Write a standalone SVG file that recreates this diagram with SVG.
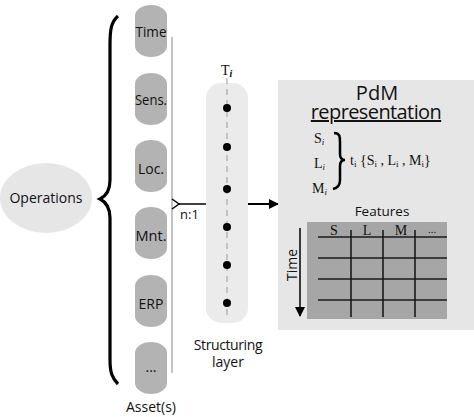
<svg xmlns="http://www.w3.org/2000/svg" width="474" height="417" viewBox="0 0 474 417">
<style>
.sans{font-family:"Open Sans","Liberation Sans",sans-serif;fill:#111}
.serif{font-family:"Liberation Serif","Times New Roman",serif;fill:#111}
.cyl{fill:#b3b3b3}
.lbl{font-size:14px;text-anchor:middle}
.dot{fill:#000}
.grid{stroke:#1a1a1a;stroke-width:1.6}
</style>
<defs>
<marker id="ah" markerWidth="10" markerHeight="10" refX="9" refY="5" orient="auto" markerUnits="userSpaceOnUse">
<path d="M0,0 L10,5 L0,10 z" fill="#000"/>
</marker>
</defs>
<rect width="474" height="417" fill="#fff"/>

<g id="operations">
<ellipse cx="46" cy="198" rx="46" ry="35" fill="#e6e6e6"/>
<text class="sans lbl" x="46" y="203">Operations</text>
</g>

<g id="brace">
<path d="M118,16 C111,22 110,30 110,45 L110,180 C110,191 106,196 100,199 C106,202 110,207 110,218 L110,360 C110,372 112,378 118,384" fill="none" stroke="#000" stroke-width="3.2"/>
</g>

<g id="assets">
<g id="asset-time"><rect class="cyl" x="135" y="5" width="32" height="52" rx="16" ry="11"/><text class="sans lbl" x="151" y="37" textLength="31" lengthAdjust="spacingAndGlyphs">Time</text></g>
<g id="asset-sens"><rect class="cyl" x="135" y="73" width="32" height="52" rx="16" ry="11"/><text class="sans lbl" x="151" y="105" textLength="32" lengthAdjust="spacingAndGlyphs">Sens.</text></g>
<g id="asset-loc"><rect class="cyl" x="135" y="140" width="32" height="52" rx="16" ry="11"/><text class="sans lbl" x="151" y="174">Loc.</text></g>
<g id="asset-mnt"><rect class="cyl" x="135" y="207" width="32" height="52" rx="16" ry="11"/><text class="sans lbl" x="151" y="241" textLength="31" lengthAdjust="spacingAndGlyphs">Mnt.</text></g>
<g id="asset-erp"><rect class="cyl" x="135" y="275" width="32" height="52" rx="16" ry="11"/><text class="sans lbl" x="151" y="309">ERP</text></g>
<g id="asset-more"><rect class="cyl" x="135" y="342" width="32" height="52" rx="16" ry="11"/><text class="sans lbl" x="151" y="372">...</text></g>
<text class="sans lbl" x="151" y="412">Asset(s)</text>
</g>

<g id="structuring-layer">
<rect x="206" y="83" width="42" height="240" rx="15" fill="#ebebeb"/>
<line x1="227" y1="78" x2="227" y2="316" stroke="#999" stroke-width="1" stroke-dasharray="6,5"/>
<circle class="dot" cx="227" cy="108" r="4"/>
<circle class="dot" cx="227" cy="147" r="4"/>
<circle class="dot" cx="227" cy="189" r="4"/>
<circle class="dot" cx="227" cy="227" r="4"/>
<circle class="dot" cx="227" cy="265" r="4"/>
<circle class="dot" cx="227" cy="303" r="4"/>
<text class="serif" x="221" y="75" font-size="14">T<tspan font-size="10" font-style="italic" font-weight="bold" dy="2">i</tspan></text>
<text class="sans lbl"><tspan x="228" y="350" letter-spacing="-0.4">Structuring</tspan><tspan x="228" y="367">layer</tspan></text>
</g>

<g id="connectors">
<line x1="172" y1="37" x2="172" y2="373" stroke="#888" stroke-width="1"/>
<path d="M172,199 L179,204 L172,209" fill="none" stroke="#000" stroke-width="1.5"/>
<line x1="179" y1="204" x2="206" y2="204" stroke="#000" stroke-width="1.5"/>
<text class="sans" x="180" y="219" font-size="13">n:1</text>
<line x1="248" y1="204" x2="278" y2="204" stroke="#000" stroke-width="2" marker-end="url(#ah)"/>
</g>

<g id="pdm-representation">
<rect x="278" y="80" width="196" height="250" fill="#e6e6e6"/>
<text class="sans" font-size="20" text-anchor="middle"><tspan x="377" y="100">PdM</tspan><tspan x="376" y="119" text-decoration="underline" letter-spacing="-0.6">representation</tspan></text>
<text class="serif" x="314" y="143" font-size="14">S<tspan font-size="9" font-style="italic" dy="2">i</tspan></text>
<text class="serif" x="314" y="168" font-size="14">L<tspan font-size="9" font-style="italic" dy="2">i</tspan></text>
<text class="serif" x="312" y="193" font-size="14">M<tspan font-size="9" font-style="italic" dy="2">i</tspan></text>
<path d="M334,133 C340,133 340,137 340,142 L340,154 C340,158 342,160 345,160 C342,160 340,162 340,166 L340,180 C340,185 338,188 333,189" fill="none" stroke="#000" stroke-width="2.5"/>
<text class="serif" x="350" y="165" font-size="14">t<tspan font-size="9" dy="2">i</tspan><tspan dy="-2"> {S</tspan><tspan font-size="9" dy="2">i</tspan><tspan dy="-2"> , L</tspan><tspan font-size="9" dy="2">i</tspan><tspan dy="-2"> , M</tspan><tspan font-size="9" dy="2">i</tspan><tspan dy="-2">}</tspan></text>
<text class="sans" x="382" y="216" font-size="13.5" text-anchor="middle">Features</text>
<rect x="307" y="222" width="140" height="97" fill="#a6a6a6"/>
<line class="grid" x1="318" y1="237" x2="447" y2="237"/>
<line class="grid" x1="318" y1="258" x2="447" y2="258"/>
<line class="grid" x1="318" y1="279" x2="447" y2="279"/>
<line class="grid" x1="318" y1="300" x2="447" y2="300"/>
<line class="grid" x1="351" y1="230" x2="351" y2="317"/>
<line class="grid" x1="383" y1="230" x2="383" y2="317"/>
<line class="grid" x1="415" y1="230" x2="415" y2="317"/>
<text class="serif" x="334" y="235" font-size="14" text-anchor="middle">S</text>
<text class="serif" x="367" y="235" font-size="14" text-anchor="middle">L</text>
<text class="serif" x="401" y="235" font-size="14" text-anchor="middle">M</text>
<text class="serif" x="432" y="233" font-size="11" text-anchor="middle">...</text>
<line x1="300" y1="228" x2="300" y2="316" stroke="#000" stroke-width="1.5" marker-end="url(#ah)"/>
<text class="sans" x="0" y="0" font-size="14" text-anchor="middle" transform="translate(297,265) rotate(-90)">Time</text>
</g>
</svg>
